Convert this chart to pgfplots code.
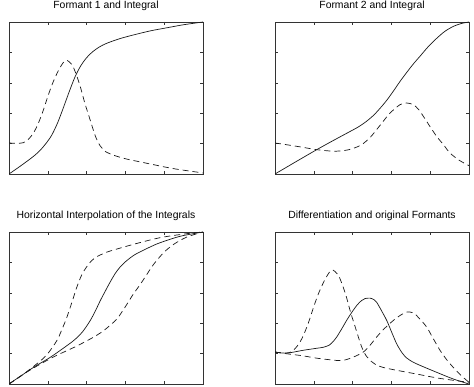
\documentclass[border=0pt]{standalone}
\usepackage{fontspec}
\setmainfont{Liberation Sans}
\usepackage{pgfplots}
\pgfplotsset{compat=1.18}
\newcommand{\titlefont}{\fontsize{10.4bp}{12bp}\selectfont}
\pgfplotsset{
  panel/.style={
    scale only axis, width=194bp, height=152bp,
    xmin=0, xmax=1, ymin=0, ymax=1,
    xtick={0.2,0.4,0.6,0.8}, ytick={0.2,0.4,0.6,0.8},
    xticklabels={}, yticklabels={},
    tick align=inside, major tick length=3bp,
    tick style={black!80, line width=0.5bp},
    axis line style={black!80, line width=0.6bp},
    title style={font=\titlefont, at={(0.5,1)}, anchor=base, yshift=8bp, inner sep=0pt},
    anchor=south west,
  },
  sol/.style={black!90, line width=0.7bp, no markers, smooth, tension=0.5},
  dsh/.style={black!90, line width=0.7bp, no markers, smooth, tension=0.5, dash pattern=on 6bp off 4bp},
}
\begin{document}
\begin{tikzpicture}
\path[use as bounding box] (0,0) rectangle (474bp,387bp);
% Top left
\begin{axis}[panel, at={(9bp,213bp)}, title={Formant 1 and Integral}]
\addplot[sol] coordinates {(0,0) (0.063,0.056) (0.126,0.116) (0.16,0.155) (0.19,0.2) (0.22,0.255) (0.25,0.335) (0.28,0.435) (0.31,0.54) (0.34,0.638) (0.37,0.712) (0.40,0.765) (0.43,0.803) (0.465,0.835) (0.504,0.86) (0.57,0.89) (0.642,0.915) (0.73,0.942) (0.814,0.962) (0.9,0.982) (1,1)};
\addplot[dsh] coordinates {(0,0.204) (0.04,0.202) (0.074,0.206) (0.10,0.228) (0.126,0.27) (0.15,0.33) (0.177,0.42) (0.20,0.51) (0.229,0.61) (0.263,0.70) (0.293,0.748) (0.324,0.72) (0.345,0.66) (0.367,0.577) (0.39,0.47) (0.418,0.357) (0.445,0.25) (0.47,0.185) (0.50,0.145) (0.522,0.132) (0.56,0.115) (0.608,0.098) (0.728,0.066) (0.849,0.035) (1,0.007)};
\end{axis}
% Top right
\begin{axis}[panel, at={(275bp,213bp)}, title={Formant 2 and Integral}]
\addplot[sol] coordinates {(0,0) (0.1,0.075) (0.215,0.16) (0.3,0.22) (0.38,0.275) (0.43,0.31) (0.47,0.345) (0.507,0.385) (0.54,0.43) (0.576,0.485) (0.61,0.545) (0.645,0.61) (0.68,0.67) (0.715,0.727) (0.747,0.774) (0.79,0.838) (0.833,0.892) (0.875,0.938) (0.919,0.971) (0.96,0.99) (1,1)};
\addplot[dsh] coordinates {(0,0.204) (0.073,0.19) (0.146,0.175) (0.215,0.16) (0.301,0.15) (0.36,0.155) (0.40,0.167) (0.447,0.193) (0.49,0.24) (0.524,0.292) (0.56,0.35) (0.593,0.401) (0.644,0.456) (0.679,0.467) (0.713,0.456) (0.74,0.425) (0.765,0.379) (0.80,0.31) (0.833,0.248) (0.87,0.19) (0.902,0.138) (0.95,0.09) (1,0.055)};
\end{axis}
% Bottom left
\begin{axis}[panel, at={(9bp,3bp)}, title={Horizontal Interpolation of the Integrals}]
\addplot[sol] coordinates {(0,0) (0.126,0.109) (0.212,0.175) (0.298,0.252) (0.34,0.293) (0.38,0.345) (0.418,0.416) (0.445,0.48) (0.47,0.547) (0.50,0.62) (0.522,0.672) (0.548,0.728) (0.573,0.77) (0.60,0.804) (0.625,0.83) (0.65,0.852) (0.677,0.87) (0.73,0.903) (0.78,0.93) (0.883,0.972) (1,1)};
\addplot[dsh] coordinates {(0,0) (0.08,0.07) (0.16,0.15) (0.2,0.2) (0.246,0.284) (0.27,0.35) (0.298,0.438) (0.325,0.54) (0.349,0.635) (0.375,0.718) (0.401,0.772) (0.425,0.81) (0.453,0.838) (0.49,0.86) (0.522,0.875) (0.642,0.919) (0.78,0.963) (0.917,0.989) (1,1)};
\addplot[dsh] coordinates {(0,0) (0.1,0.085) (0.177,0.142) (0.24,0.185) (0.298,0.219) (0.35,0.25) (0.401,0.284) (0.445,0.315) (0.487,0.35) (0.52,0.385) (0.556,0.427) (0.58,0.47) (0.608,0.525) (0.64,0.59) (0.677,0.656) (0.71,0.72) (0.746,0.788) (0.797,0.864) (0.849,0.919) (0.917,0.967) (1,1)};
\end{axis}
% Bottom right
\begin{axis}[panel, at={(275bp,3bp)}, title={Differentiation and original Formants}]
\addplot[sol] coordinates {(0,0.21) (0.06,0.203) (0.146,0.222) (0.215,0.235) (0.25,0.242) (0.28,0.256) (0.30,0.28) (0.318,0.309) (0.345,0.365) (0.369,0.418) (0.395,0.47) (0.421,0.516) (0.445,0.548) (0.464,0.562) (0.49,0.565) (0.51,0.555) (0.524,0.538) (0.55,0.48) (0.576,0.418) (0.60,0.345) (0.627,0.265) (0.655,0.205) (0.679,0.171) (0.71,0.145) (0.747,0.123) (0.833,0.077) (0.919,0.033) (1,0)};
\addplot[dsh] coordinates {(0,0.21) (0.04,0.205) (0.074,0.206) (0.10,0.228) (0.126,0.27) (0.15,0.33) (0.177,0.42) (0.20,0.51) (0.229,0.61) (0.263,0.70) (0.293,0.75) (0.324,0.72) (0.345,0.66) (0.367,0.577) (0.39,0.47) (0.418,0.357) (0.445,0.25) (0.47,0.185) (0.50,0.145) (0.522,0.125) (0.56,0.108) (0.608,0.095) (0.728,0.066) (0.849,0.037) (1,0.011)};
\addplot[dsh] coordinates {(0,0.21) (0.06,0.199) (0.146,0.185) (0.215,0.17) (0.318,0.155) (0.36,0.158) (0.404,0.177) (0.455,0.21) (0.49,0.255) (0.524,0.309) (0.56,0.36) (0.61,0.418) (0.65,0.455) (0.679,0.473) (0.713,0.468) (0.745,0.43) (0.782,0.374) (0.815,0.3) (0.851,0.221) (0.885,0.16) (0.919,0.109) (0.96,0.055) (1,0.011)};
\end{axis}
\end{tikzpicture}
\end{document}
